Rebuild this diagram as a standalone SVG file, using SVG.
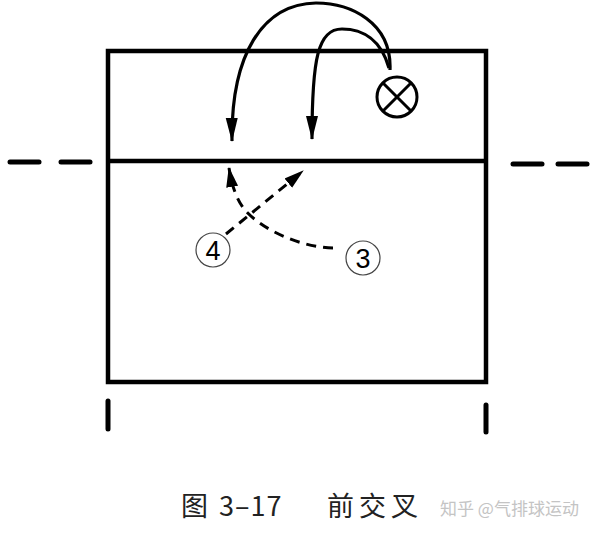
<svg xmlns="http://www.w3.org/2000/svg" width="600" height="540" viewBox="0 0 600 540">
<style>
.court{fill:none;stroke:#000;stroke-width:4.5}
.solid{fill:none;stroke:#000;stroke-width:3.2}
.dash{fill:none;stroke:#000;stroke-width:3;stroke-dasharray:10 7}
.mark{stroke:#000;stroke-width:5;stroke-linecap:round}
.pc{fill:#fff;stroke:#444;stroke-width:1.2}
.num{font-family:"Liberation Sans",Arial,sans-serif;font-size:27px;text-anchor:middle}
.cap{font-family:"Noto Sans CJK SC","Liberation Sans",sans-serif;font-size:27px;fill:#222}
.wm{font-family:"Noto Sans CJK SC","Liberation Sans",sans-serif;font-size:17px;fill:#c4c4c4}
</style>
<defs>
<marker id="ah" markerWidth="24" markerHeight="14" refX="23" refY="7" orient="auto" markerUnits="userSpaceOnUse">
<path d="M0,1 L24,7 L0,13 Z" fill="#000"/>
</marker>
<marker id="ad" markerWidth="20" markerHeight="14" refX="19" refY="7" orient="auto" markerUnits="userSpaceOnUse">
<path d="M0,1 L20,7 L0,13 Z" fill="#000"/>
</marker>
</defs>
<g id="court">
<rect class="court" x="108" y="51" width="378" height="331"/>
<line class="court" x1="108" y1="161" x2="486" y2="161"/>
<line class="mark" x1="10" y1="162" x2="39" y2="162"/>
<line class="mark" x1="61" y1="162" x2="90" y2="162"/>
<line class="mark" x1="513" y1="164" x2="542" y2="164"/>
<line class="mark" x1="558" y1="164" x2="587" y2="164"/>
<line class="mark" x1="108" y1="401" x2="108" y2="429"/>
<line class="mark" x1="486" y1="405" x2="486" y2="432"/>
</g>
<g id="connectors">
<path class="solid" d="M390,70 C392,22 350,3 316,3 C262,4 231,55 232,141" marker-end="url(#ah)"/>
<path class="solid" d="M389,68 C381,40 363,29 342,29 C318,29 312,58 312,139" marker-end="url(#ah)"/>
<path class="dash" d="M226,234 L303,171" marker-end="url(#ad)"/>
<path class="dash" d="M333,248 C300,247 262,230 244,209 C236,198 232,186 229,168" marker-end="url(#ad)"/>
</g>
<g id="ball">
<circle cx="397" cy="97" r="20" fill="#fff" stroke="#000" stroke-width="3"/>
<line x1="383" y1="83" x2="411" y2="111" stroke="#000" stroke-width="3"/>
<line x1="411" y1="83" x2="383" y2="111" stroke="#000" stroke-width="3"/>
</g>
<g id="p4">
<circle class="pc" cx="213" cy="250" r="17"/>
<text class="num" x="213" y="260">4</text>
</g>
<g id="p3">
<circle class="pc" cx="363" cy="258" r="17"/>
<text class="num" x="363" y="268">3</text>
</g>
<g id="caption">
<text class="cap" x="181" y="516">图</text>
<text class="cap" x="219" y="516" font-family="Liberation Sans, sans-serif" font-size="31" letter-spacing="1">3–17</text>
<text class="cap" x="327" y="516" letter-spacing="5">前交叉</text>
<text class="wm" x="440" y="515">知乎 @气排球运动</text>
</g>
</svg>
